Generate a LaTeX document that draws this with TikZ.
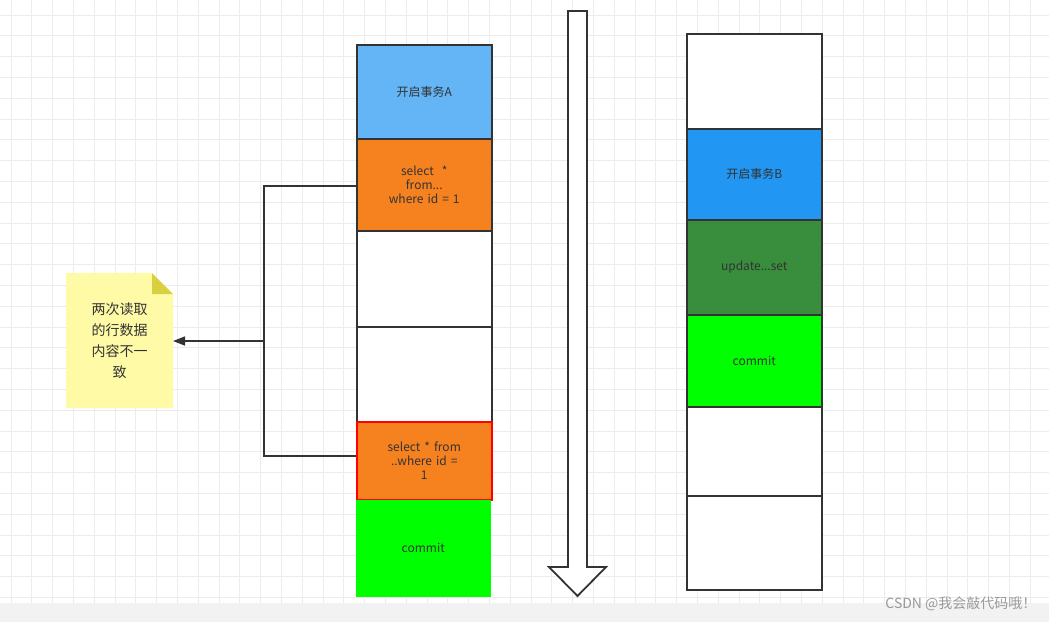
\documentclass[tikz,border=0pt]{standalone}
\usepackage{fontspec}
\setmainfont{Liberation Sans}
\newfontfamily\cjk{Noto Sans CJK SC}
\usetikzlibrary{arrows.meta}
\definecolor{bA}{HTML}{64B5F6}
\definecolor{bB}{HTML}{2196F3}
\definecolor{org}{HTML}{F5821F}
\definecolor{dg}{HTML}{388E3C}
\definecolor{lg}{HTML}{00FF00}
\definecolor{ln}{HTML}{333333}
\tikzset{box/.style={draw=ln,line width=1.5pt,minimum width=135pt,inner sep=0pt,font=\fontsize{12}{14}\selectfont\cjk,text=ln,align=center,text width=120pt}}
\begin{document}
\begin{tikzpicture}[x=1pt,y=-1pt]
\useasboundingbox (0,0) rectangle (1049,622);
\fill[white] (0,0) rectangle (1049,622);
\foreach \i in {0,...,50} {\draw[gray!15,line width=0.8pt] (11+20.8*\i,0) -- (11+20.8*\i,603);}
\foreach \i in {0,...,29} {\draw[gray!15,line width=0.8pt] (0,15+20.8*\i) -- (1049,15+20.8*\i);}
\fill[gray!10] (0,603) rectangle (1049,622);
% left column
\node[box,fill=bA,minimum height=94pt,anchor=north west] (a1) at (356,44) {开启事务A};
\node[box,fill=org,minimum height=92pt,anchor=north west] (a2) at (356,138) {select~~*\\from...\\where id = 1};
\node[box,fill=white,minimum height=96pt,anchor=north west] (a3) at (356,230) {};
\node[box,fill=white,minimum height=95pt,anchor=north west] (a4) at (356,326) {};
\node[box,fill=org,draw=red,minimum height=78pt,anchor=north west] (a5) at (356,421) {select * from\\..where id =\\1};
\node[box,fill=lg,draw=none,minimum height=97pt,anchor=north west] (a6) at (355,499) {commit};
% right column
\node[box,fill=white,minimum height=95pt,anchor=north west] (b1) at (686,33) {};
\node[box,fill=bB,minimum height=91pt,anchor=north west] (b2) at (686,128) {开启事务B};
\node[box,fill=dg,minimum height=95pt,anchor=north west] (b3) at (686,219) {update...set};
\node[box,fill=lg,minimum height=92pt,anchor=north west] (b4) at (686,314) {commit};
\node[box,fill=white,minimum height=89pt,anchor=north west] (b5) at (686,406) {};
\node[box,fill=white,minimum height=94pt,anchor=north west] (b6) at (686,495) {};
% time arrow
\draw[ln,line width=1.8pt,fill=white,line join=miter] (568,11) -- (587,11) -- (587,567) -- (606,567) -- (577.5,596) -- (549,567) -- (568,567) -- cycle;
% note
\fill[yellow!35!white] (66,273) -- (152,273) -- (173,294) -- (173,408) -- (66,408) -- cycle;
\fill[olive!50!yellow!70!white] (152,273) -- (173,294) -- (152,294) -- cycle;
\node[font=\fontsize{14}{21}\selectfont\cjk,text=ln,align=center] (note) at (119.5,341) {两次读取\\的行数据\\内容不一\\致};
\coordinate (n) at (173,341);
% bracket
\coordinate (j) at (264,341);
\draw[ln,line width=1.5pt] (a2.west |- 0,186) -- (264,186) -- (264,456) -- (a5.west |- 0,456);
\draw[ln,line width=1.5pt,-{Triangle[length=12pt,width=9pt]}] (j) -- (n);
\node[font=\fontsize{14}{16}\selectfont\cjk,text=gray!80,anchor=east] (wm) at (1040,604) {CSDN @我会敲代码哦！};
\end{tikzpicture}
\end{document}
